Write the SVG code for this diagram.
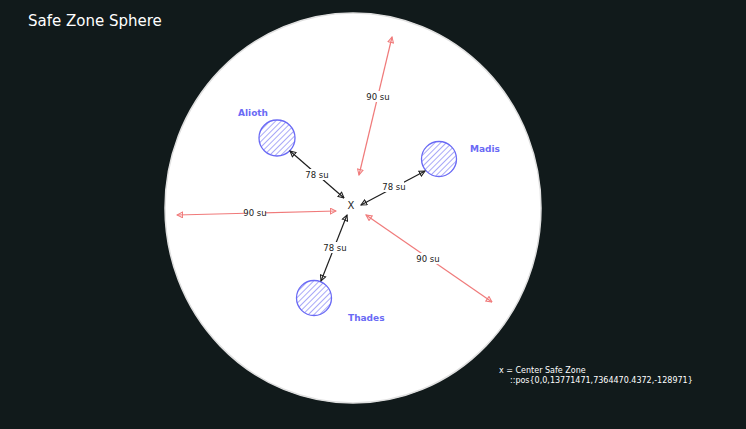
<svg xmlns="http://www.w3.org/2000/svg" width="746" height="429" viewBox="0 0 746 429">
<defs>
<style>
.lbl{font-family:"DejaVu Sans","Liberation Sans",sans-serif;font-size:8.5px;fill:#222}
.name{font-family:"DejaVu Sans","Liberation Sans",sans-serif;font-size:9px;font-weight:bold;fill:#6a6af5}
.blk{stroke:#1e1e1e;stroke-width:1.2;fill:none;marker-start:url(#ab);marker-end:url(#ab)}
.red{stroke:#f07a7a;stroke-width:1.2;fill:none;marker-start:url(#ar);marker-end:url(#ar)}
.planet{fill:url(#hatch);stroke:#6a6af5;stroke-width:1.3}
.note{font-family:"DejaVu Sans","Liberation Sans",sans-serif;font-size:8px;fill:#ffffff}
</style>
<pattern id="hatch" patternUnits="userSpaceOnUse" width="4" height="4" patternTransform="rotate(45)">
<rect width="4" height="4" fill="#ffffff"/>
<line x1="0" y1="0" x2="0" y2="4" stroke="#7a7af5" stroke-width="1.3"/>
</pattern>
<marker id="ab" viewBox="0 0 10 10" refX="9" refY="5" markerWidth="7" markerHeight="7" orient="auto-start-reverse" markerUnits="userSpaceOnUse">
<path d="M1,1 L9,5 L1,9 Z" fill="none" stroke="#1e1e1e" stroke-width="1.5"/>
</marker>
<marker id="ar" viewBox="0 0 10 10" refX="9" refY="5" markerWidth="7" markerHeight="7" orient="auto-start-reverse" markerUnits="userSpaceOnUse">
<path d="M1,1 L9,5 L1,9 Z" fill="none" stroke="#f07a7a" stroke-width="1.5"/>
</marker>
</defs>
<rect width="746" height="429" fill="#111a1b"/>
<text x="28" y="26" font-family="'DejaVu Sans','Liberation Sans',sans-serif" font-size="15" fill="#ffffff">Safe Zone Sphere</text>
<g id="sphere">
<ellipse cx="353" cy="208" rx="188" ry="195" fill="#ffffff" stroke="#e0e0e0" stroke-width="1.5"/>
</g>
<g id="alioth">
<circle class="planet" cx="277" cy="138" r="18"/>
<text class="name" x="238" y="116">Alioth</text>
</g>
<g id="madis">
<circle class="planet" cx="439" cy="159" r="17.5"/>
<text class="name" x="470" y="152">Madis</text>
</g>
<g id="thades">
<circle class="planet" cx="314" cy="298" r="17.5"/>
<text class="name" x="348" y="321">Thades</text>
</g>
<g id="center">
<text x="351" y="209" font-family="'DejaVu Sans','Liberation Sans',sans-serif" font-size="10" fill="#1e1e1e" text-anchor="middle">X</text>
</g>
<g id="connectors">
<line class="blk" x1="290" y1="151" x2="344" y2="198"/>
<line class="blk" x1="425" y1="171" x2="361" y2="205"/>
<line class="blk" x1="347" y1="215" x2="321" y2="281"/>
<line class="red" x1="392" y1="37" x2="359" y2="175"/>
<line class="red" x1="177" y1="215" x2="336" y2="211"/>
<line class="red" x1="366" y1="215" x2="492" y2="302"/>
<rect x="307" y="169" width="20" height="11" fill="#ffffff"/>
<text class="lbl" x="317" y="177.5" text-anchor="middle">78 su</text>
<rect x="384" y="181" width="20" height="11" fill="#ffffff"/>
<text class="lbl" x="394" y="189.5" text-anchor="middle">78 su</text>
<rect x="325" y="242" width="20" height="11" fill="#ffffff"/>
<text class="lbl" x="335" y="250.5" text-anchor="middle">78 su</text>
<rect x="368" y="91" width="20" height="11" fill="#ffffff"/>
<text class="lbl" x="378" y="99.5" text-anchor="middle">90 su</text>
<rect x="245" y="207" width="20" height="11" fill="#ffffff"/>
<text class="lbl" x="255" y="215.5" text-anchor="middle">90 su</text>
<rect x="418" y="253" width="20" height="11" fill="#ffffff"/>
<text class="lbl" x="428" y="261.5" text-anchor="middle">90 su</text>
</g>
<g id="note">
<text class="note" x="499" y="373">x = Center Safe Zone</text>
<text class="note" x="510" y="383">::pos{0,0,13771471,7364470.4372,-128971}</text>
</g>
</svg>
